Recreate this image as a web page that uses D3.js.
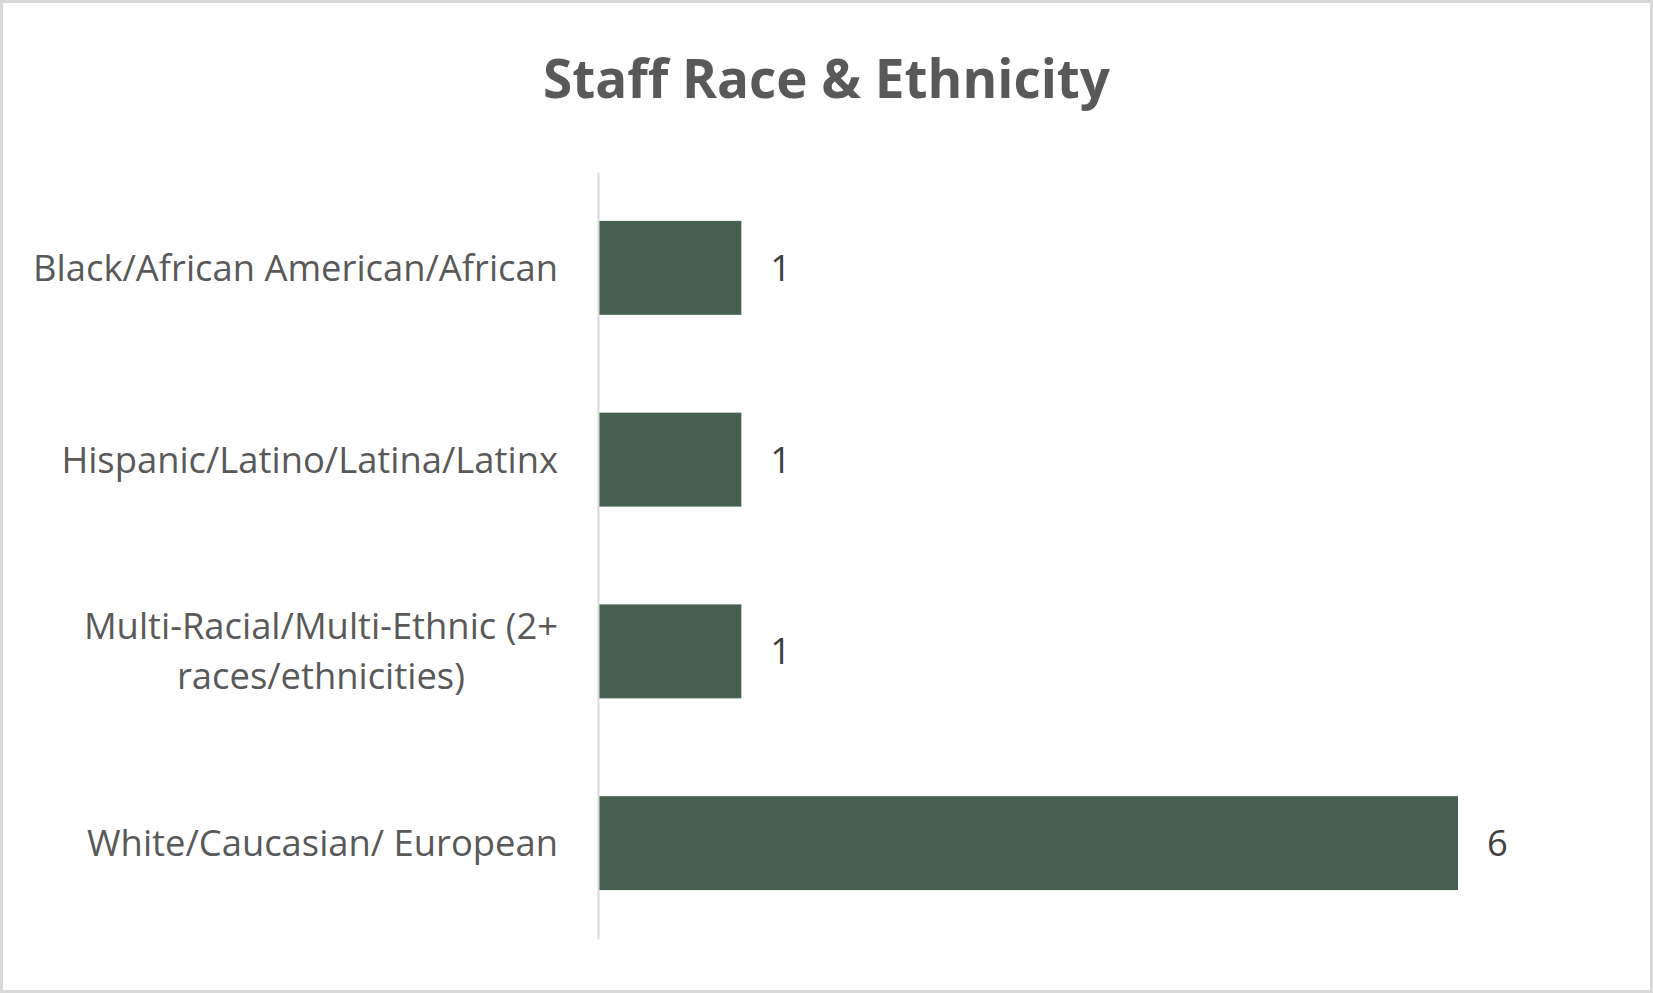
<!DOCTYPE html>
<html><head><meta charset="utf-8">
<script src="https://cdn.jsdelivr.net/npm/d3@7"></script>
<style>html,body{margin:0;padding:0;background:#fff;}svg{display:block;}</style>
</head><body>
<script>
const title = "Staff Race & Ethnicity";
const categories = [
  ["Black/African American/African"],
  ["Hispanic/Latino/Latina/Latinx"],
  ["Multi-Racial/Multi-Ethnic (2+", "races/ethnicities)"],
  ["White/Caucasian/ European"]
];
const values = [1, 1, 1, 6];

const W = 1653, H = 993;
const svg = d3.select("body").append("svg").attr("width", W).attr("height", H);
svg.append("rect").attr("x", 1.5).attr("y", 1.5).attr("width", W - 3).attr("height", H - 3)
  .attr("fill", "#fff").attr("stroke", "#d9d9d9").attr("stroke-width", 3);

const FONT = "'Open Sans', 'Noto Sans', sans-serif";
const axisX = 598, plotTop = 172, plotBottom = 939, plotRight = 1458;
const keys = categories.map((c, i) => i);
const y = d3.scaleBand().domain(keys).range([plotTop, plotBottom]).paddingInner(0.51).paddingOuter(0.255);
const x = d3.scaleLinear().domain([0, d3.max(values)]).range([axisX, plotRight]);

// fit font sizes by measurement
function measure(txt, size, weight) {
  const t = svg.append("text").attr("font-family", FONT).attr("font-size", size).attr("font-weight", weight).text(txt);
  const w = t.node().getComputedTextLength(); t.remove(); return w;
}
const titleSize = 100 * 567 / measure(title, 100, "bold");
const labSize = 100 * 525 / measure(categories[0][0], 100, "normal");

svg.append("text").attr("x", W / 2).attr("y", 98).attr("text-anchor", "middle")
  .attr("font-family", FONT).attr("font-weight", "bold").attr("font-size", titleSize)
  .attr("fill", "#595959").text(title);

// bars
svg.append("g").selectAll("rect").data(values).join("rect")
  .attr("x", x(0)).attr("y", (d, i) => y(i))
  .attr("width", d => x(d) - x(0)).attr("height", y.bandwidth())
  .attr("fill", "#476150");

// axis line
const yAxis = d3.axisLeft(y).tickSize(0).tickFormat("");
const ag = svg.append("g").attr("transform", `translate(${axisX},0)`).call(yAxis);
ag.select(".domain").attr("stroke", "#d9d9d9").attr("stroke-width", 2);

// category labels
const labelRight = 558, lineH = 50;
categories.forEach((lines, i) => {
  const cy = y(i) + y.bandwidth() / 2;
  const widths = lines.map(l => measure(l, labSize, "normal"));
  const bw = d3.max(widths);
  const t = svg.append("text").attr("font-family", FONT).attr("font-size", labSize)
    .attr("fill", "#595959").attr("text-anchor", "middle");
  lines.forEach((l, j) => {
    t.append("tspan").attr("x", labelRight - bw / 2)
      .attr("y", cy + (j - (lines.length - 1) / 2) * lineH).attr("dy", "0.36em").text(l);
  });
});

// value labels
svg.append("g").selectAll("text").data(values).join("text")
  .attr("x", d => x(d) + 29).attr("y", (d, i) => y(i) + y.bandwidth() / 2).attr("dy", "0.36em")
  .attr("font-family", FONT).attr("font-size", labSize).attr("fill", "#404040").text(d => d);
</script>
</body></html>
